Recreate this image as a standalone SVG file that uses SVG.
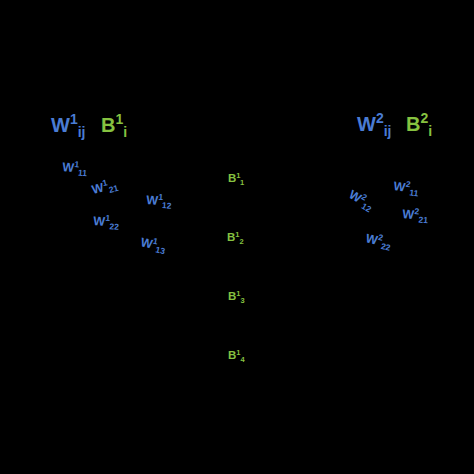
<svg xmlns="http://www.w3.org/2000/svg" width="474" height="474" viewBox="0 0 474 474">
<style>
text{font-family:"Liberation Sans",Arial,sans-serif;font-weight:bold}
.w{fill:#4a7cd4}
.b{fill:#86c240}
.big{font-size:20px}
.big .s{font-size:14px}
.sm{font-size:12.5px}
.sm .s{font-size:8.5px}
.bs{font-size:11.5px}
.bs .s{font-size:7.5px}
</style>
<rect width="474" height="474" fill="#000"/>
<g id="W1ij"><text class="w big" x="51" y="132">W<tspan class="s" dy="-8">1</tspan><tspan class="s" dy="13">ij</tspan></text></g>
<g id="B1i"><text class="b big" x="101" y="132">B<tspan class="s" dy="-8">1</tspan><tspan class="s" dy="13">i</tspan></text></g>
<g id="W2ij"><text class="w big" x="357" y="131">W<tspan class="s" dy="-8">2</tspan><tspan class="s" dy="13">ij</tspan></text></g>
<g id="B2i"><text class="b big" x="406" y="131">B<tspan class="s" dy="-8">2</tspan><tspan class="s" dy="13">i</tspan></text></g>

<g id="W1_11"><text class="w sm" transform="translate(62,171) rotate(5)">W<tspan class="s" dy="-5">1</tspan><tspan class="s" dy="8">11</tspan></text></g>
<g id="W1_21"><text class="w sm" transform="translate(93,194) rotate(-14)">W<tspan class="s" dy="-5">1</tspan><tspan class="s" dy="8">21</tspan></text></g>
<g id="W1_12"><text class="w sm" transform="translate(146,204) rotate(4)">W<tspan class="s" dy="-5">1</tspan><tspan class="s" dy="8">12</tspan></text></g>
<g id="W1_22"><text class="w sm" transform="translate(93,225) rotate(4)">W<tspan class="s" dy="-5">1</tspan><tspan class="s" dy="8">22</tspan></text></g>
<g id="W1_13"><text class="w sm" transform="translate(140,246) rotate(12)">W<tspan class="s" dy="-5">1</tspan><tspan class="s" dy="8">13</tspan></text></g>

<g id="B1_1"><text class="b bs" x="228" y="182">B<tspan class="s" dy="-4">1</tspan><tspan class="s" dy="7">1</tspan></text></g>
<g id="B1_2"><text class="b bs" x="227" y="241">B<tspan class="s" dy="-4">1</tspan><tspan class="s" dy="7">2</tspan></text></g>
<g id="B1_3"><text class="b bs" x="228" y="300">B<tspan class="s" dy="-4">1</tspan><tspan class="s" dy="7">3</tspan></text></g>
<g id="B1_4"><text class="b bs" x="228" y="359">B<tspan class="s" dy="-4">1</tspan><tspan class="s" dy="7">4</tspan></text></g>

<g id="W2_11"><text class="w sm" transform="translate(393,190) rotate(8)">W<tspan class="s" dy="-5">2</tspan><tspan class="s" dy="8">11</tspan></text></g>
<g id="W2_12"><text class="w sm" transform="translate(348,197) rotate(30)">W<tspan class="s" dy="-5">2</tspan><tspan class="s" dy="8">12</tspan></text></g>
<g id="W2_21"><text class="w sm" transform="translate(402,218) rotate(5)">W<tspan class="s" dy="-5">2</tspan><tspan class="s" dy="8">21</tspan></text></g>
<g id="W2_22"><text class="w sm" transform="translate(365,242) rotate(13)">W<tspan class="s" dy="-5">2</tspan><tspan class="s" dy="8">22</tspan></text></g>
</svg>
